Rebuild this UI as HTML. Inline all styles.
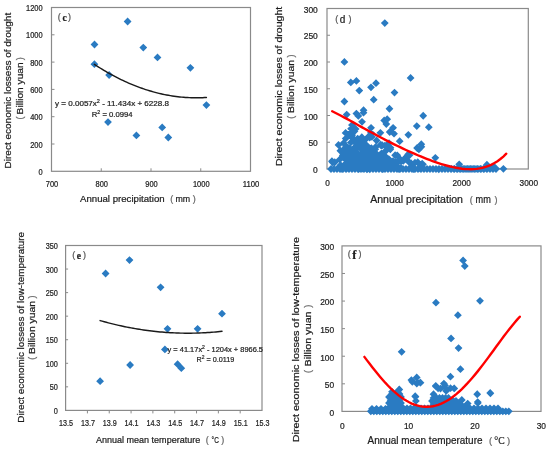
<!DOCTYPE html>
<html><head><meta charset="utf-8"><style>
html,body{margin:0;padding:0;background:#fff;width:550px;height:450px;overflow:hidden;}
svg{display:block;font-family:"Liberation Sans", sans-serif;filter:blur(0.3px);}
.t{filter:grayscale(1);}
</style></head><body>
<svg width="550" height="450" viewBox="0 0 550 450">
<rect width="550" height="450" fill="#fff"/>
<rect x="51.5" y="7.5" width="199.00" height="163.80" fill="none" stroke="#8a8a8a" stroke-width="1.2"/>
<line x1="51.50" y1="144.00" x2="54.50" y2="144.00" stroke="#8a8a8a" stroke-width="1"/>
<line x1="51.50" y1="116.70" x2="54.50" y2="116.70" stroke="#8a8a8a" stroke-width="1"/>
<line x1="51.50" y1="89.40" x2="54.50" y2="89.40" stroke="#8a8a8a" stroke-width="1"/>
<line x1="51.50" y1="62.10" x2="54.50" y2="62.10" stroke="#8a8a8a" stroke-width="1"/>
<line x1="51.50" y1="34.80" x2="54.50" y2="34.80" stroke="#8a8a8a" stroke-width="1"/>
<line x1="101.25" y1="171.30" x2="101.25" y2="168.30" stroke="#8a8a8a" stroke-width="1"/>
<line x1="151.00" y1="171.30" x2="151.00" y2="168.30" stroke="#8a8a8a" stroke-width="1"/>
<line x1="200.75" y1="171.30" x2="200.75" y2="168.30" stroke="#8a8a8a" stroke-width="1"/>
<rect x="327" y="8.5" width="201.30" height="160.50" fill="none" stroke="#8a8a8a" stroke-width="1.2"/>
<line x1="327.00" y1="142.25" x2="330.00" y2="142.25" stroke="#8a8a8a" stroke-width="1"/>
<line x1="327.00" y1="115.50" x2="330.00" y2="115.50" stroke="#8a8a8a" stroke-width="1"/>
<line x1="327.00" y1="88.75" x2="330.00" y2="88.75" stroke="#8a8a8a" stroke-width="1"/>
<line x1="327.00" y1="62.00" x2="330.00" y2="62.00" stroke="#8a8a8a" stroke-width="1"/>
<line x1="327.00" y1="35.25" x2="330.00" y2="35.25" stroke="#8a8a8a" stroke-width="1"/>
<line x1="394.10" y1="169.00" x2="394.10" y2="166.00" stroke="#8a8a8a" stroke-width="1"/>
<line x1="461.20" y1="169.00" x2="461.20" y2="166.00" stroke="#8a8a8a" stroke-width="1"/>
<rect x="65.6" y="245.5" width="196.40" height="164.90" fill="none" stroke="#8a8a8a" stroke-width="1.2"/>
<line x1="65.60" y1="386.84" x2="68.10" y2="386.84" stroke="#8a8a8a" stroke-width="1"/>
<line x1="65.60" y1="363.29" x2="68.10" y2="363.29" stroke="#8a8a8a" stroke-width="1"/>
<line x1="65.60" y1="339.73" x2="68.10" y2="339.73" stroke="#8a8a8a" stroke-width="1"/>
<line x1="65.60" y1="316.17" x2="68.10" y2="316.17" stroke="#8a8a8a" stroke-width="1"/>
<line x1="65.60" y1="292.61" x2="68.10" y2="292.61" stroke="#8a8a8a" stroke-width="1"/>
<line x1="65.60" y1="269.06" x2="68.10" y2="269.06" stroke="#8a8a8a" stroke-width="1"/>
<line x1="87.42" y1="410.40" x2="87.42" y2="413.40" stroke="#8a8a8a" stroke-width="1"/>
<line x1="109.24" y1="410.40" x2="109.24" y2="413.40" stroke="#8a8a8a" stroke-width="1"/>
<line x1="131.07" y1="410.40" x2="131.07" y2="413.40" stroke="#8a8a8a" stroke-width="1"/>
<line x1="152.89" y1="410.40" x2="152.89" y2="413.40" stroke="#8a8a8a" stroke-width="1"/>
<line x1="174.71" y1="410.40" x2="174.71" y2="413.40" stroke="#8a8a8a" stroke-width="1"/>
<line x1="196.53" y1="410.40" x2="196.53" y2="413.40" stroke="#8a8a8a" stroke-width="1"/>
<line x1="218.36" y1="410.40" x2="218.36" y2="413.40" stroke="#8a8a8a" stroke-width="1"/>
<line x1="240.18" y1="410.40" x2="240.18" y2="413.40" stroke="#8a8a8a" stroke-width="1"/>
<rect x="342" y="245.9" width="199.00" height="165.50" fill="none" stroke="#8a8a8a" stroke-width="1.2"/>
<line x1="342.00" y1="383.82" x2="345.00" y2="383.82" stroke="#8a8a8a" stroke-width="1"/>
<line x1="342.00" y1="356.23" x2="345.00" y2="356.23" stroke="#8a8a8a" stroke-width="1"/>
<line x1="342.00" y1="328.65" x2="345.00" y2="328.65" stroke="#8a8a8a" stroke-width="1"/>
<line x1="342.00" y1="301.07" x2="345.00" y2="301.07" stroke="#8a8a8a" stroke-width="1"/>
<line x1="342.00" y1="273.48" x2="345.00" y2="273.48" stroke="#8a8a8a" stroke-width="1"/>
<line x1="408.33" y1="411.40" x2="408.33" y2="408.40" stroke="#8a8a8a" stroke-width="1"/>
<line x1="474.67" y1="411.40" x2="474.67" y2="408.40" stroke="#8a8a8a" stroke-width="1"/>
<path d="M127.60,17.60L131.50,21.50L127.60,25.40L123.70,21.50ZM94.50,40.60L98.40,44.50L94.50,48.40L90.60,44.50ZM143.30,43.70L147.20,47.60L143.30,51.50L139.40,47.60ZM157.50,53.50L161.40,57.40L157.50,61.30L153.60,57.40ZM190.40,63.90L194.30,67.80L190.40,71.70L186.50,67.80ZM94.40,60.30L98.30,64.20L94.40,68.10L90.50,64.20ZM109.10,71.10L113.00,75.00L109.10,78.90L105.20,75.00ZM206.40,101.20L210.30,105.10L206.40,109.00L202.50,105.10ZM108.00,118.20L111.90,122.10L108.00,126.00L104.10,122.10ZM136.40,131.50L140.30,135.40L136.40,139.30L132.50,135.40ZM162.20,123.50L166.10,127.40L162.20,131.30L158.30,127.40ZM168.30,133.60L172.20,137.50L168.30,141.40L164.40,137.50ZM384.80,19.20L388.70,23.10L384.80,27.00L380.90,23.10ZM344.40,58.00L348.30,61.90L344.40,65.80L340.50,61.90ZM410.60,74.00L414.50,77.90L410.60,81.80L406.70,77.90ZM350.80,78.50L354.70,82.40L350.80,86.30L346.90,82.40ZM356.40,77.00L360.30,80.90L356.40,84.80L352.50,80.90ZM376.00,79.30L379.90,83.20L376.00,87.10L372.10,83.20ZM371.00,83.40L374.90,87.30L371.00,91.20L367.10,87.30ZM359.30,86.70L363.20,90.60L359.30,94.50L355.40,90.60ZM394.50,88.70L398.40,92.60L394.50,96.50L390.60,92.60ZM373.70,95.75L377.60,99.65L373.70,103.55L369.80,99.65ZM344.40,97.60L348.30,101.50L344.40,105.40L340.50,101.50ZM389.45,104.85L393.35,108.75L389.45,112.65L385.55,108.75ZM363.55,106.30L367.45,110.20L363.55,114.10L359.65,110.20ZM356.40,109.65L360.30,113.55L356.40,117.45L352.50,113.55ZM358.33,112.00L362.23,115.90L358.33,119.80L354.43,115.90ZM346.70,110.70L350.60,114.60L346.70,118.50L342.80,114.60ZM423.20,111.85L427.10,115.75L423.20,119.65L419.30,115.75ZM384.20,116.55L388.10,120.45L384.20,124.35L380.30,120.45ZM387.20,115.25L391.10,119.15L387.20,123.05L383.30,119.15ZM362.02,117.90L365.92,121.80L362.02,125.70L358.12,121.80ZM351.94,121.20L355.84,125.10L351.94,129.00L348.04,125.10ZM416.77,122.20L420.67,126.10L416.77,130.00L412.88,126.10ZM428.80,123.25L432.70,127.15L428.80,131.05L424.90,127.15ZM371.05,123.92L374.95,127.82L371.05,131.72L367.15,127.82ZM393.10,123.90L397.00,127.80L393.10,131.70L389.20,127.80ZM380.38,128.90L384.27,132.80L380.38,136.70L376.48,132.80ZM345.60,129.07L349.50,132.97L345.60,136.87L341.70,132.97ZM408.34,130.88L412.24,134.78L408.34,138.68L404.44,134.78ZM421.30,140.30L425.20,144.20L421.30,148.10L417.40,144.20ZM399.68,137.32L403.57,141.22L399.68,145.12L395.78,141.22ZM435.33,153.97L439.23,157.87L435.33,161.77L431.43,157.87ZM363.50,108.80L367.40,112.70L363.50,116.60L359.60,112.70ZM354.50,127.40L358.40,131.30L354.50,135.20L350.60,131.30ZM389.70,128.10L393.60,132.00L389.70,135.90L385.80,132.00ZM338.50,141.00L342.40,144.90L338.50,148.80L334.60,144.90ZM344.62,144.72L348.52,148.62L344.62,152.53L340.73,148.62ZM332.50,158.40L336.40,162.30L332.50,166.20L328.60,162.30ZM361.40,135.60L365.30,139.50L361.40,143.40L357.50,139.50ZM369.70,133.60L373.60,137.50L369.70,141.40L365.80,137.50ZM380.67,140.87L384.57,144.77L380.67,148.67L376.77,144.77ZM394.03,129.77L397.93,133.67L394.03,137.57L390.13,133.67ZM421.37,142.97L425.27,146.87L421.37,150.77L417.47,146.87ZM418.90,145.50L422.80,149.40L418.90,153.30L415.00,149.40ZM503.40,164.90L507.30,168.80L503.40,172.70L499.50,168.80ZM493.70,162.40L497.60,166.30L493.70,170.20L489.80,166.30ZM486.90,160.80L490.80,164.70L486.90,168.60L483.00,164.70ZM349.00,131.80L352.90,135.70L349.00,139.60L345.10,135.70ZM351.20,127.50L355.10,131.40L351.20,135.30L347.30,131.40ZM371.90,132.90L375.80,136.80L371.90,140.70L368.00,136.80ZM459.20,160.40L463.10,164.30L459.20,168.20L455.30,164.30ZM350.20,129.60L354.10,133.50L350.20,137.40L346.30,133.50ZM417.10,144.10L421.00,148.00L417.10,151.90L413.20,148.00ZM386.30,120.10L390.20,124.00L386.30,127.90L382.40,124.00ZM346.59,162.48L350.49,166.38L346.59,170.28L342.69,166.38ZM344.49,163.35L348.39,167.25L344.49,171.15L340.59,167.25ZM422.15,159.83L426.05,163.73L422.15,167.63L418.25,163.73ZM346.56,151.39L350.46,155.29L346.56,159.19L342.66,155.29ZM365.16,135.91L369.06,139.81L365.16,143.71L361.26,139.81ZM344.19,154.26L348.09,158.16L344.19,162.06L340.29,158.16ZM363.34,153.73L367.24,157.63L363.34,161.53L359.44,157.63ZM380.68,156.30L384.58,160.20L380.68,164.10L376.78,160.20ZM347.95,143.77L351.85,147.67L347.95,151.57L344.05,147.67ZM346.12,142.33L350.02,146.23L346.12,150.13L342.22,146.23ZM360.37,156.45L364.27,160.35L360.37,164.25L356.47,160.35ZM362.51,148.45L366.41,152.35L362.51,156.25L358.61,152.35ZM357.20,149.18L361.10,153.08L357.20,156.98L353.30,153.08ZM359.25,164.70L363.15,168.60L359.25,172.50L355.35,168.60ZM367.03,145.99L370.93,149.89L367.03,153.79L363.13,149.89ZM347.39,156.87L351.29,160.77L347.39,164.67L343.49,160.77ZM364.01,150.15L367.91,154.05L364.01,157.95L360.11,154.05ZM347.20,160.23L351.10,164.13L347.20,168.03L343.30,164.13ZM378.98,159.16L382.88,163.06L378.98,166.96L375.08,163.06ZM390.51,143.82L394.41,147.72L390.51,151.62L386.61,147.72ZM388.64,159.60L392.54,163.50L388.64,167.40L384.74,163.50ZM382.61,164.49L386.51,168.39L382.61,172.29L378.71,168.39ZM376.34,154.18L380.24,158.08L376.34,161.98L372.44,158.08ZM371.35,144.19L375.25,148.09L371.35,151.99L367.45,148.09ZM374.08,154.26L377.98,158.16L374.08,162.06L370.18,158.16ZM381.71,160.16L385.61,164.06L381.71,167.96L377.81,164.06ZM371.67,160.70L375.57,164.60L371.67,168.50L367.77,164.60ZM376.46,154.55L380.36,158.45L376.46,162.35L372.56,158.45ZM347.24,147.12L351.14,151.02L347.24,154.92L343.34,151.02ZM367.04,152.18L370.94,156.08L367.04,159.98L363.14,156.08ZM381.36,164.19L385.26,168.09L381.36,171.99L377.46,168.09ZM371.56,150.75L375.46,154.65L371.56,158.55L367.66,154.65ZM390.77,159.76L394.67,163.66L390.77,167.56L386.87,163.66ZM355.63,125.03L359.53,128.93L355.63,132.83L351.73,128.93ZM350.77,147.24L354.67,151.14L350.77,155.04L346.87,151.14ZM370.47,150.65L374.37,154.55L370.47,158.45L366.57,154.55ZM354.34,160.78L358.24,164.68L354.34,168.58L350.44,164.68ZM377.10,152.01L381.00,155.91L377.10,159.81L373.20,155.91ZM388.79,155.20L392.69,159.10L388.79,163.00L384.89,159.10ZM358.22,153.52L362.12,157.42L358.22,161.32L354.32,157.42ZM331.95,157.37L335.85,161.27L331.95,165.17L328.05,161.27ZM364.85,147.56L368.75,151.46L364.85,155.36L360.95,151.46ZM355.37,161.66L359.27,165.56L355.37,169.46L351.47,165.56ZM360.79,151.65L364.69,155.55L360.79,159.45L356.89,155.55ZM369.15,147.13L373.05,151.03L369.15,154.93L365.25,151.03ZM375.08,156.91L378.98,160.81L375.08,164.71L371.18,160.81ZM367.02,144.02L370.92,147.92L367.02,151.82L363.12,147.92ZM358.82,163.59L362.72,167.49L358.82,171.39L354.92,167.49ZM381.29,149.70L385.19,153.60L381.29,157.50L377.39,153.60ZM384.30,161.49L388.20,165.39L384.30,169.29L380.40,165.39ZM366.97,147.11L370.87,151.01L366.97,154.91L363.07,151.01ZM367.25,158.26L371.15,162.16L367.25,166.06L363.35,162.16ZM413.58,163.76L417.48,167.66L413.58,171.56L409.68,167.66ZM358.16,142.85L362.06,146.75L358.16,150.65L354.26,146.75ZM362.75,164.77L366.65,168.67L362.75,172.57L358.85,168.67ZM367.83,164.75L371.73,168.65L367.83,172.55L363.93,168.65ZM409.52,151.29L413.42,155.19L409.52,159.09L405.62,155.19ZM401.10,164.32L405.00,168.22L401.10,172.12L397.20,168.22ZM383.59,149.04L387.49,152.94L383.59,156.84L379.69,152.94ZM361.57,162.41L365.47,166.31L361.57,170.21L357.67,166.31ZM350.36,154.39L354.26,158.29L350.36,162.19L346.46,158.29ZM346.20,159.05L350.10,162.95L346.20,166.85L342.30,162.95ZM365.61,143.89L369.51,147.79L365.61,151.69L361.71,147.79ZM359.65,135.44L363.55,139.34L359.65,143.24L355.75,139.34ZM351.64,131.70L355.54,135.60L351.64,139.50L347.74,135.60ZM355.30,142.96L359.20,146.86L355.30,150.76L351.40,146.86ZM371.53,129.42L375.43,133.32L371.53,137.22L367.63,133.32ZM352.97,123.66L356.87,127.56L352.97,131.46L349.07,127.56ZM389.18,161.32L393.08,165.22L389.18,169.12L385.28,165.22ZM352.08,146.70L355.98,150.60L352.08,154.50L348.18,150.60ZM344.85,148.30L348.75,152.20L344.85,156.10L340.95,152.20ZM370.96,128.90L374.86,132.80L370.96,136.70L367.06,132.80ZM369.87,153.03L373.77,156.93L369.87,160.83L365.97,156.93ZM362.10,158.95L366.00,162.85L362.10,166.75L358.20,162.85ZM372.60,159.98L376.50,163.88L372.60,167.78L368.70,163.88ZM364.84,163.66L368.74,167.56L364.84,171.46L360.94,167.56ZM381.69,149.64L385.59,153.54L381.69,157.44L377.79,153.54ZM379.94,160.54L383.84,164.44L379.94,168.34L376.04,164.44ZM354.77,138.43L358.67,142.33L354.77,146.23L350.87,142.33ZM407.24,153.72L411.14,157.62L407.24,161.52L403.34,157.62ZM364.31,155.54L368.21,159.44L364.31,163.34L360.41,159.44ZM343.62,161.65L347.52,165.55L343.62,169.45L339.72,165.55ZM357.86,149.74L361.76,153.64L357.86,157.54L353.96,153.64ZM397.71,157.86L401.61,161.76L397.71,165.66L393.81,161.76ZM374.53,155.29L378.43,159.19L374.53,163.09L370.63,159.19ZM362.67,142.61L366.57,146.51L362.67,150.41L358.77,146.51ZM398.96,165.22L402.86,169.12L398.96,173.02L395.06,169.12ZM368.40,150.01L372.30,153.91L368.40,157.81L364.50,153.91ZM384.83,141.80L388.73,145.70L384.83,149.60L380.93,145.70ZM395.11,151.24L399.01,155.14L395.11,159.04L391.21,155.14ZM381.23,141.75L385.13,145.65L381.23,149.55L377.33,145.65ZM367.23,148.52L371.13,152.42L367.23,156.32L363.33,152.42ZM370.61,163.03L374.51,166.93L370.61,170.83L366.71,166.93ZM343.80,146.56L347.70,150.46L343.80,154.36L339.90,150.46ZM389.70,162.00L393.60,165.90L389.70,169.80L385.80,165.90ZM346.76,153.94L350.66,157.84L346.76,161.74L342.86,157.84ZM438.79,165.42L442.69,169.32L438.79,173.22L434.89,169.32ZM367.00,165.52L370.90,169.42L367.00,173.32L363.10,169.42ZM378.99,155.21L382.89,159.11L378.99,163.01L375.09,159.11ZM364.14,160.14L368.04,164.04L364.14,167.94L360.24,164.04ZM348.00,146.06L351.90,149.96L348.00,153.86L344.10,149.96ZM350.27,159.67L354.17,163.57L350.27,167.47L346.37,163.57ZM370.45,154.00L374.35,157.90L370.45,161.80L366.55,157.90ZM355.88,152.49L359.78,156.39L355.88,160.29L351.98,156.39ZM365.04,154.11L368.94,158.01L365.04,161.91L361.14,158.01ZM359.88,162.58L363.78,166.48L359.88,170.38L355.98,166.48ZM370.55,146.00L374.45,149.90L370.55,153.80L366.65,149.90ZM354.51,161.65L358.41,165.55L354.51,169.45L350.61,165.55ZM339.78,155.56L343.68,159.46L339.78,163.36L335.88,159.46ZM366.92,144.92L370.82,148.82L366.92,152.72L363.02,148.82ZM353.00,155.56L356.90,159.46L353.00,163.36L349.10,159.46ZM414.99,158.87L418.89,162.77L414.99,166.67L411.09,162.77ZM379.81,158.36L383.71,162.26L379.81,166.16L375.91,162.26ZM390.43,157.98L394.33,161.88L390.43,165.78L386.53,161.88ZM382.94,165.14L386.84,169.04L382.94,172.94L379.04,169.04ZM350.61,152.16L354.51,156.06L350.61,159.96L346.71,156.06ZM370.46,159.12L374.36,163.02L370.46,166.92L366.56,163.02ZM371.16,155.92L375.06,159.82L371.16,163.72L367.26,159.82ZM388.43,157.53L392.33,161.43L388.43,165.33L384.53,161.43ZM369.98,147.18L373.88,151.08L369.98,154.98L366.08,151.08ZM389.58,162.92L393.48,166.82L389.58,170.72L385.68,166.82ZM359.43,139.25L363.33,143.15L359.43,147.05L355.53,143.15ZM362.67,148.33L366.57,152.23L362.67,156.13L358.77,152.23ZM398.34,163.22L402.24,167.12L398.34,171.02L394.44,167.12ZM351.47,163.18L355.37,167.08L351.47,170.98L347.57,167.08ZM388.53,161.97L392.43,165.87L388.53,169.77L384.63,165.87ZM345.67,134.63L349.57,138.53L345.67,142.43L341.77,138.53ZM417.75,158.37L421.65,162.27L417.75,166.17L413.85,162.27ZM374.97,157.02L378.87,160.92L374.97,164.82L371.07,160.92ZM408.06,150.49L411.96,154.39L408.06,158.29L404.16,154.39ZM343.58,139.22L347.48,143.12L343.58,147.02L339.68,143.12ZM411.01,159.29L414.91,163.19L411.01,167.09L407.11,163.19ZM362.42,154.59L366.32,158.49L362.42,162.39L358.52,158.49ZM361.71,145.70L365.61,149.60L361.71,153.50L357.81,149.60ZM347.44,152.01L351.34,155.91L347.44,159.81L343.54,155.91ZM345.94,148.04L349.84,151.94L345.94,155.84L342.04,151.94ZM354.64,158.39L358.54,162.29L354.64,166.19L350.74,162.29ZM381.25,153.08L385.15,156.98L381.25,160.88L377.35,156.98ZM369.81,165.38L373.71,169.28L369.81,173.18L365.91,169.28ZM377.83,152.58L381.73,156.48L377.83,160.38L373.93,156.48ZM362.85,144.11L366.75,148.01L362.85,151.91L358.95,148.01ZM350.94,162.58L354.84,166.48L350.94,170.38L347.04,166.48ZM375.01,145.67L378.91,149.57L375.01,153.47L371.11,149.57ZM386.66,146.14L390.56,150.04L386.66,153.94L382.76,150.04ZM346.37,164.84L350.27,168.74L346.37,172.64L342.47,168.74ZM379.84,152.02L383.74,155.92L379.84,159.82L375.94,155.92ZM334.75,158.37L338.65,162.27L334.75,166.17L330.85,162.27ZM349.31,150.54L353.21,154.44L349.31,158.34L345.41,154.44ZM397.24,151.46L401.14,155.36L397.24,159.26L393.34,155.36ZM376.01,161.64L379.91,165.54L376.01,169.44L372.11,165.54ZM352.64,161.57L356.54,165.47L352.64,169.37L348.74,165.47ZM359.83,158.34L363.73,162.24L359.83,166.14L355.93,162.24ZM380.56,155.13L384.46,159.03L380.56,162.93L376.66,159.03ZM361.83,141.51L365.73,145.41L361.83,149.31L357.93,145.41ZM373.66,161.34L377.56,165.24L373.66,169.14L369.76,165.24ZM364.80,163.92L368.70,167.82L364.80,171.72L360.90,167.82ZM352.35,147.67L356.25,151.57L352.35,155.47L348.45,151.57ZM355.93,143.14L359.83,147.04L355.93,150.94L352.03,147.04ZM394.71,161.34L398.61,165.24L394.71,169.14L390.81,165.24ZM358.60,165.08L362.50,168.98L358.60,172.88L354.70,168.98ZM363.24,150.49L367.14,154.39L363.24,158.29L359.34,154.39ZM383.12,157.89L387.02,161.79L383.12,165.69L379.22,161.79ZM349.70,159.14L353.60,163.04L349.70,166.94L345.80,163.04ZM342.84,148.38L346.74,152.28L342.84,156.18L338.94,152.28ZM405.92,153.27L409.82,157.17L405.92,161.07L402.02,157.17ZM353.31,149.31L357.21,153.21L353.31,157.11L349.41,153.21ZM384.75,158.78L388.65,162.68L384.75,166.58L380.85,162.68ZM409.77,164.22L413.67,168.12L409.77,172.02L405.87,168.12ZM386.59,156.94L390.49,160.84L386.59,164.74L382.69,160.84ZM373.16,150.61L377.06,154.51L373.16,158.41L369.26,154.51ZM375.40,148.89L379.30,152.79L375.40,156.69L371.50,152.79ZM362.18,141.70L366.08,145.60L362.18,149.50L358.28,145.60ZM395.77,163.02L399.67,166.92L395.77,170.82L391.87,166.92ZM378.55,162.45L382.45,166.35L378.55,170.25L374.65,166.35ZM380.72,151.45L384.62,155.35L380.72,159.25L376.82,155.35ZM361.48,157.11L365.38,161.01L361.48,164.91L357.58,161.01ZM352.08,157.70L355.98,161.60L352.08,165.50L348.18,161.60ZM364.21,161.70L368.11,165.60L364.21,169.50L360.31,165.60ZM376.15,162.76L380.05,166.66L376.15,170.56L372.25,166.66ZM390.34,145.38L394.24,149.28L390.34,153.18L386.44,149.28ZM370.17,164.04L374.07,167.94L370.17,171.84L366.27,167.94ZM348.33,164.26L352.23,168.16L348.33,172.06L344.43,168.16ZM368.80,132.43L372.70,136.33L368.80,140.23L364.90,136.33ZM357.67,134.67L361.57,138.57L357.67,142.47L353.77,138.57ZM388.21,161.67L392.11,165.57L388.21,169.47L384.31,165.57ZM338.94,164.06L342.84,167.96L338.94,171.86L335.04,167.96ZM376.22,158.55L380.12,162.45L376.22,166.35L372.32,162.45ZM377.50,153.33L381.40,157.23L377.50,161.13L373.60,157.23ZM349.39,153.26L353.29,157.16L349.39,161.06L345.49,157.16ZM360.99,157.69L364.89,161.59L360.99,165.49L357.09,161.59ZM366.35,157.91L370.25,161.81L366.35,165.71L362.45,161.81ZM361.82,133.25L365.72,137.15L361.82,141.05L357.92,137.15ZM376.58,136.59L380.48,140.49L376.58,144.39L372.68,140.49ZM362.48,153.46L366.38,157.36L362.48,161.26L358.58,157.36ZM413.77,165.24L417.67,169.14L413.77,173.04L409.87,169.14ZM381.05,155.99L384.95,159.89L381.05,163.79L377.15,159.89ZM340.58,161.20L344.48,165.10L340.58,169.00L336.68,165.10ZM360.81,164.89L364.71,168.79L360.81,172.69L356.91,168.79ZM352.21,131.17L356.11,135.07L352.21,138.97L348.31,135.07ZM384.01,163.51L387.91,167.41L384.01,171.31L380.11,167.41ZM363.71,136.70L367.61,140.60L363.71,144.50L359.81,140.60ZM350.82,146.95L354.72,150.85L350.82,154.75L346.92,150.85ZM345.41,150.16L349.31,154.06L345.41,157.96L341.51,154.06ZM385.00,155.02L388.90,158.92L385.00,162.82L381.10,158.92ZM368.08,148.81L371.98,152.71L368.08,156.61L364.18,152.71ZM369.34,156.67L373.24,160.57L369.34,164.47L365.44,160.57ZM377.04,158.82L380.94,162.72L377.04,166.62L373.14,162.72ZM351.66,132.92L355.56,136.82L351.66,140.72L347.76,136.82ZM395.34,158.02L399.24,161.92L395.34,165.82L391.44,161.92ZM357.55,143.71L361.45,147.61L357.55,151.51L353.65,147.61ZM373.05,159.23L376.95,163.13L373.05,167.03L369.15,163.13ZM342.74,151.56L346.64,155.46L342.74,159.36L338.84,155.46ZM362.41,145.34L366.31,149.24L362.41,153.14L358.51,149.24ZM346.82,147.83L350.72,151.73L346.82,155.63L342.92,151.73ZM366.26,147.05L370.16,150.95L366.26,154.85L362.36,150.95ZM350.72,151.24L354.62,155.14L350.72,159.04L346.82,155.14ZM358.85,165.07L362.75,168.97L358.85,172.87L354.95,168.97ZM340.37,146.87L344.27,150.77L340.37,154.67L336.47,150.77ZM341.32,165.04L345.22,168.94L341.32,172.84L337.42,168.94ZM409.31,158.51L413.21,162.41L409.31,166.31L405.41,162.41ZM366.98,161.04L370.88,164.94L366.98,168.84L363.08,164.94ZM370.72,155.88L374.62,159.78L370.72,163.68L366.82,159.78ZM349.93,144.57L353.83,148.47L349.93,152.37L346.03,148.47ZM366.61,141.47L370.51,145.37L366.61,149.27L362.71,145.37ZM353.17,136.62L357.07,140.52L353.17,144.42L349.27,140.52ZM388.99,143.44L392.89,147.34L388.99,151.24L385.09,147.34ZM366.98,153.29L370.88,157.19L366.98,161.09L363.08,157.19ZM360.18,161.17L364.08,165.07L360.18,168.97L356.28,165.07ZM366.55,150.34L370.45,154.24L366.55,158.14L362.65,154.24ZM351.08,124.75L354.98,128.65L351.08,132.55L347.18,128.65ZM419.97,164.51L423.87,168.41L419.97,172.31L416.07,168.41ZM364.00,160.56L367.90,164.46L364.00,168.36L360.10,164.46ZM389.00,139.18L392.90,143.08L389.00,146.98L385.10,143.08ZM379.72,153.53L383.62,157.43L379.72,161.33L375.82,157.43ZM375.16,145.24L379.06,149.14L375.16,153.04L371.26,149.14ZM401.03,157.67L404.93,161.57L401.03,165.47L397.13,161.57ZM377.34,153.30L381.24,157.20L377.34,161.10L373.44,157.20ZM348.37,131.58L352.27,135.48L348.37,139.38L344.47,135.48ZM367.58,151.54L371.48,155.44L367.58,159.34L363.68,155.44ZM349.22,153.21L353.12,157.11L349.22,161.01L345.32,157.11ZM393.00,157.26L396.90,161.16L393.00,165.06L389.10,161.16ZM350.89,138.53L354.79,142.43L350.89,146.33L346.99,142.43ZM351.79,162.87L355.69,166.77L351.79,170.67L347.89,166.77ZM361.88,161.18L365.78,165.08L361.88,168.98L357.98,165.08ZM377.37,151.01L381.27,154.91L377.37,158.81L373.47,154.91ZM361.51,161.93L365.41,165.83L361.51,169.73L357.61,165.83ZM361.10,136.42L365.00,140.32L361.10,144.22L357.20,140.32ZM369.59,147.55L373.49,151.45L369.59,155.35L365.69,151.45ZM378.29,154.42L382.19,158.32L378.29,162.22L374.39,158.32ZM384.67,151.74L388.57,155.64L384.67,159.54L380.77,155.64ZM376.46,150.89L380.36,154.79L376.46,158.69L372.56,154.79ZM399.85,155.05L403.75,158.95L399.85,162.85L395.95,158.95ZM371.89,157.19L375.79,161.09L371.89,164.99L367.99,161.09ZM383.18,164.11L387.08,168.01L383.18,171.91L379.28,168.01ZM373.41,156.36L377.31,160.26L373.41,164.16L369.51,160.26ZM364.39,154.99L368.29,158.89L364.39,162.79L360.49,158.89ZM419.22,163.60L423.12,167.50L419.22,171.40L415.32,167.50ZM382.21,141.34L386.11,145.24L382.21,149.14L378.31,145.24ZM422.95,160.43L426.85,164.33L422.95,168.23L419.05,164.33ZM383.18,160.18L387.08,164.08L383.18,167.98L379.28,164.08ZM354.67,163.67L358.57,167.57L354.67,171.47L350.77,167.57ZM383.27,163.53L387.17,167.43L383.27,171.33L379.37,167.43ZM363.88,164.03L367.78,167.93L363.88,171.83L359.98,167.93ZM360.34,140.95L364.24,144.85L360.34,148.75L356.44,144.85ZM357.40,163.55L361.30,167.45L357.40,171.35L353.50,167.45ZM348.01,150.33L351.91,154.23L348.01,158.13L344.11,154.23ZM355.97,152.65L359.87,156.55L355.97,160.45L352.07,156.55ZM384.38,163.30L388.28,167.20L384.38,171.10L380.48,167.20ZM356.44,159.44L360.34,163.34L356.44,167.24L352.54,163.34ZM398.31,163.56L402.21,167.46L398.31,171.36L394.41,167.46ZM375.42,143.35L379.32,147.25L375.42,151.15L371.52,147.25ZM403.30,157.01L407.20,160.91L403.30,164.81L399.40,160.91ZM349.17,146.93L353.07,150.83L349.17,154.73L345.27,150.83ZM352.18,155.67L356.08,159.57L352.18,163.47L348.28,159.57ZM342.80,165.17L346.70,169.07L342.80,172.97L338.90,169.07ZM377.95,154.36L381.85,158.26L377.95,162.16L374.05,158.26ZM331.00,165.10L334.90,169.00L331.00,172.90L327.10,169.00ZM334.00,165.10L337.90,169.00L334.00,172.90L330.10,169.00ZM337.00,165.10L340.90,169.00L337.00,172.90L333.10,169.00ZM340.00,165.10L343.90,169.00L340.00,172.90L336.10,169.00ZM343.00,165.10L346.90,169.00L343.00,172.90L339.10,169.00ZM346.00,165.10L349.90,169.00L346.00,172.90L342.10,169.00ZM349.00,165.10L352.90,169.00L349.00,172.90L345.10,169.00ZM352.00,165.10L355.90,169.00L352.00,172.90L348.10,169.00ZM355.00,165.10L358.90,169.00L355.00,172.90L351.10,169.00ZM358.00,165.10L361.90,169.00L358.00,172.90L354.10,169.00ZM361.00,165.10L364.90,169.00L361.00,172.90L357.10,169.00ZM364.00,165.10L367.90,169.00L364.00,172.90L360.10,169.00ZM367.00,165.10L370.90,169.00L367.00,172.90L363.10,169.00ZM370.00,165.10L373.90,169.00L370.00,172.90L366.10,169.00ZM373.00,165.10L376.90,169.00L373.00,172.90L369.10,169.00ZM376.00,165.10L379.90,169.00L376.00,172.90L372.10,169.00ZM379.00,165.10L382.90,169.00L379.00,172.90L375.10,169.00ZM382.00,165.10L385.90,169.00L382.00,172.90L378.10,169.00ZM385.00,165.10L388.90,169.00L385.00,172.90L381.10,169.00ZM388.00,165.10L391.90,169.00L388.00,172.90L384.10,169.00ZM391.00,165.10L394.90,169.00L391.00,172.90L387.10,169.00ZM394.00,165.10L397.90,169.00L394.00,172.90L390.10,169.00ZM397.00,165.10L400.90,169.00L397.00,172.90L393.10,169.00ZM400.00,165.10L403.90,169.00L400.00,172.90L396.10,169.00ZM403.00,165.10L406.90,169.00L403.00,172.90L399.10,169.00ZM406.00,165.10L409.90,169.00L406.00,172.90L402.10,169.00ZM409.00,165.10L412.90,169.00L409.00,172.90L405.10,169.00ZM412.00,165.10L415.90,169.00L412.00,172.90L408.10,169.00ZM415.00,165.10L418.90,169.00L415.00,172.90L411.10,169.00ZM418.00,165.10L421.90,169.00L418.00,172.90L414.10,169.00ZM421.00,165.10L424.90,169.00L421.00,172.90L417.10,169.00ZM424.00,165.10L427.90,169.00L424.00,172.90L420.10,169.00ZM427.00,165.10L430.90,169.00L427.00,172.90L423.10,169.00ZM430.00,165.10L433.90,169.00L430.00,172.90L426.10,169.00ZM433.00,165.10L436.90,169.00L433.00,172.90L429.10,169.00ZM436.00,165.10L439.90,169.00L436.00,172.90L432.10,169.00ZM439.00,165.10L442.90,169.00L439.00,172.90L435.10,169.00ZM442.00,165.10L445.90,169.00L442.00,172.90L438.10,169.00ZM445.00,165.10L448.90,169.00L445.00,172.90L441.10,169.00ZM448.00,165.10L451.90,169.00L448.00,172.90L444.10,169.00ZM451.00,165.10L454.90,169.00L451.00,172.90L447.10,169.00ZM454.00,165.10L457.90,169.00L454.00,172.90L450.10,169.00ZM457.00,165.10L460.90,169.00L457.00,172.90L453.10,169.00ZM460.00,165.10L463.90,169.00L460.00,172.90L456.10,169.00ZM463.00,165.10L466.90,169.00L463.00,172.90L459.10,169.00ZM466.00,165.10L469.90,169.00L466.00,172.90L462.10,169.00ZM469.00,165.10L472.90,169.00L469.00,172.90L465.10,169.00ZM472.00,165.10L475.90,169.00L472.00,172.90L468.10,169.00ZM475.00,165.10L478.90,169.00L475.00,172.90L471.10,169.00ZM478.00,165.10L481.90,169.00L478.00,172.90L474.10,169.00ZM481.00,165.10L484.90,169.00L481.00,172.90L477.10,169.00ZM484.00,165.10L487.90,169.00L484.00,172.90L480.10,169.00ZM487.00,165.10L490.90,169.00L487.00,172.90L483.10,169.00ZM490.00,165.10L493.90,169.00L490.00,172.90L486.10,169.00ZM493.00,165.10L496.90,169.00L493.00,172.90L489.10,169.00ZM496.00,165.10L499.90,169.00L496.00,172.90L492.10,169.00ZM445.00,164.90L448.90,168.80L445.00,172.70L441.10,168.80ZM448.20,164.90L452.10,168.80L448.20,172.70L444.30,168.80ZM451.40,164.90L455.30,168.80L451.40,172.70L447.50,168.80ZM454.60,164.90L458.50,168.80L454.60,172.70L450.70,168.80ZM457.80,164.90L461.70,168.80L457.80,172.70L453.90,168.80ZM461.00,164.90L464.90,168.80L461.00,172.70L457.10,168.80ZM464.20,164.90L468.10,168.80L464.20,172.70L460.30,168.80ZM467.40,164.90L471.30,168.80L467.40,172.70L463.50,168.80ZM470.60,164.90L474.50,168.80L470.60,172.70L466.70,168.80ZM473.80,164.90L477.70,168.80L473.80,172.70L469.90,168.80ZM477.00,164.90L480.90,168.80L477.00,172.70L473.10,168.80ZM480.20,164.90L484.10,168.80L480.20,172.70L476.30,168.80ZM483.40,164.90L487.30,168.80L483.40,172.70L479.50,168.80ZM486.60,164.90L490.50,168.80L486.60,172.70L482.70,168.80ZM489.80,164.90L493.70,168.80L489.80,172.70L485.90,168.80ZM493.00,164.90L496.90,168.80L493.00,172.70L489.10,168.80ZM496.20,164.90L500.10,168.80L496.20,172.70L492.30,168.80ZM129.50,256.20L133.40,260.10L129.50,264.00L125.60,260.10ZM105.60,269.60L109.50,273.50L105.60,277.40L101.70,273.50ZM160.60,283.40L164.50,287.30L160.60,291.20L156.70,287.30ZM167.50,324.90L171.40,328.80L167.50,332.70L163.60,328.80ZM197.60,324.90L201.50,328.80L197.60,332.70L193.70,328.80ZM222.00,309.80L225.90,313.70L222.00,317.60L218.10,313.70ZM164.90,345.50L168.80,349.40L164.90,353.30L161.00,349.40ZM177.60,360.30L181.50,364.20L177.60,368.10L173.70,364.20ZM181.30,364.30L185.20,368.20L181.30,372.10L177.40,368.20ZM130.10,361.10L134.00,365.00L130.10,368.90L126.20,365.00ZM100.10,377.30L104.00,381.20L100.10,385.10L96.20,381.20ZM463.10,256.50L467.00,260.40L463.10,264.30L459.20,260.40ZM464.80,262.20L468.70,266.10L464.80,270.00L460.90,266.10ZM435.95,298.75L439.85,302.65L435.95,306.55L432.05,302.65ZM480.00,296.95L483.90,300.85L480.00,304.75L476.10,300.85ZM457.90,311.30L461.80,315.20L457.90,319.10L454.00,315.20ZM451.05,334.50L454.95,338.40L451.05,342.30L447.15,338.40ZM458.55,344.20L462.45,348.10L458.55,352.00L454.65,348.10ZM401.65,347.90L405.55,351.80L401.65,355.70L397.75,351.80ZM460.45,365.25L464.35,369.15L460.45,373.05L456.55,369.15ZM450.45,372.75L454.35,376.65L450.45,380.55L446.55,376.65ZM411.40,376.17L415.30,380.07L411.40,383.97L407.50,380.07ZM416.73,373.57L420.63,377.47L416.73,381.37L412.83,377.47ZM420.23,378.70L424.13,382.60L420.23,386.50L416.33,382.60ZM435.77,381.93L439.67,385.83L435.77,389.73L431.88,385.83ZM438.10,384.40L442.00,388.30L438.10,392.20L434.20,388.30ZM443.90,379.68L447.80,383.58L443.90,387.48L440.00,383.58ZM445.10,383.80L449.00,387.70L445.10,391.60L441.20,387.70ZM454.27,384.52L458.17,388.42L454.27,392.32L450.38,388.42ZM477.23,390.37L481.13,394.27L477.23,398.17L473.33,394.27ZM490.45,389.45L494.35,393.35L490.45,397.25L486.55,393.35ZM477.70,398.20L481.60,402.10L477.70,406.00L473.80,402.10ZM433.53,390.30L437.43,394.20L433.53,398.10L429.63,394.20ZM398.77,386.10L402.67,390.00L398.77,393.90L394.87,390.00ZM391.97,389.77L395.87,393.67L391.97,397.57L388.07,393.67ZM415.20,392.27L419.10,396.17L415.20,400.07L411.30,396.17ZM390.50,394.30L394.40,398.20L390.50,402.10L386.60,398.20ZM396.20,393.95L400.10,397.85L396.20,401.75L392.30,397.85ZM417.30,378.50L421.20,382.40L417.30,386.30L413.40,382.40ZM446.20,387.00L450.10,390.90L446.20,394.80L442.30,390.90ZM399.30,397.70L403.20,401.60L399.30,405.50L395.40,401.60ZM370.80,407.40L374.70,411.30L370.80,415.20L366.90,411.30ZM373.80,407.40L377.70,411.30L373.80,415.20L369.90,411.30ZM376.80,407.40L380.70,411.30L376.80,415.20L372.90,411.30ZM379.80,407.40L383.70,411.30L379.80,415.20L375.90,411.30ZM382.80,407.40L386.70,411.30L382.80,415.20L378.90,411.30ZM385.80,407.40L389.70,411.30L385.80,415.20L381.90,411.30ZM388.80,407.40L392.70,411.30L388.80,415.20L384.90,411.30ZM391.80,407.40L395.70,411.30L391.80,415.20L387.90,411.30ZM394.80,407.40L398.70,411.30L394.80,415.20L390.90,411.30ZM397.80,407.40L401.70,411.30L397.80,415.20L393.90,411.30ZM400.80,407.40L404.70,411.30L400.80,415.20L396.90,411.30ZM403.80,407.40L407.70,411.30L403.80,415.20L399.90,411.30ZM406.80,407.40L410.70,411.30L406.80,415.20L402.90,411.30ZM409.80,407.40L413.70,411.30L409.80,415.20L405.90,411.30ZM412.80,407.40L416.70,411.30L412.80,415.20L408.90,411.30ZM415.80,407.40L419.70,411.30L415.80,415.20L411.90,411.30ZM418.80,407.40L422.70,411.30L418.80,415.20L414.90,411.30ZM421.80,407.40L425.70,411.30L421.80,415.20L417.90,411.30ZM424.80,407.40L428.70,411.30L424.80,415.20L420.90,411.30ZM427.80,407.40L431.70,411.30L427.80,415.20L423.90,411.30ZM430.80,407.40L434.70,411.30L430.80,415.20L426.90,411.30ZM433.80,407.40L437.70,411.30L433.80,415.20L429.90,411.30ZM436.80,407.40L440.70,411.30L436.80,415.20L432.90,411.30ZM439.80,407.40L443.70,411.30L439.80,415.20L435.90,411.30ZM442.80,407.40L446.70,411.30L442.80,415.20L438.90,411.30ZM445.80,407.40L449.70,411.30L445.80,415.20L441.90,411.30ZM448.80,407.40L452.70,411.30L448.80,415.20L444.90,411.30ZM451.80,407.40L455.70,411.30L451.80,415.20L447.90,411.30ZM454.80,407.40L458.70,411.30L454.80,415.20L450.90,411.30ZM457.80,407.40L461.70,411.30L457.80,415.20L453.90,411.30ZM460.80,407.40L464.70,411.30L460.80,415.20L456.90,411.30ZM463.80,407.40L467.70,411.30L463.80,415.20L459.90,411.30ZM466.80,407.40L470.70,411.30L466.80,415.20L462.90,411.30ZM469.80,407.40L473.70,411.30L469.80,415.20L465.90,411.30ZM472.80,407.40L476.70,411.30L472.80,415.20L468.90,411.30ZM475.80,407.40L479.70,411.30L475.80,415.20L471.90,411.30ZM478.80,407.40L482.70,411.30L478.80,415.20L474.90,411.30ZM481.80,407.40L485.70,411.30L481.80,415.20L477.90,411.30ZM484.80,407.40L488.70,411.30L484.80,415.20L480.90,411.30ZM487.80,407.40L491.70,411.30L487.80,415.20L483.90,411.30ZM490.80,407.40L494.70,411.30L490.80,415.20L486.90,411.30ZM493.80,407.40L497.70,411.30L493.80,415.20L489.90,411.30ZM496.80,407.40L500.70,411.30L496.80,415.20L492.90,411.30ZM499.80,407.40L503.70,411.30L499.80,415.20L495.90,411.30ZM502.80,407.40L506.70,411.30L502.80,415.20L498.90,411.30ZM505.80,407.40L509.70,411.30L505.80,415.20L501.90,411.30ZM508.80,407.40L512.70,411.30L508.80,415.20L504.90,411.30ZM372.00,404.90L375.90,408.80L372.00,412.70L368.10,408.80ZM376.50,404.90L380.40,408.80L376.50,412.70L372.60,408.80ZM381.00,404.90L384.90,408.80L381.00,412.70L377.10,408.80ZM385.50,404.90L389.40,408.80L385.50,412.70L381.60,408.80ZM400.00,404.40L403.90,408.30L400.00,412.20L396.10,408.30ZM403.50,404.40L407.40,408.30L403.50,412.20L399.60,408.30ZM407.00,404.40L410.90,408.30L407.00,412.20L403.10,408.30ZM410.50,404.40L414.40,408.30L410.50,412.20L406.60,408.30ZM414.00,404.40L417.90,408.30L414.00,412.20L410.10,408.30ZM417.50,404.40L421.40,408.30L417.50,412.20L413.60,408.30ZM421.00,404.40L424.90,408.30L421.00,412.20L417.10,408.30ZM424.50,404.40L428.40,408.30L424.50,412.20L420.60,408.30ZM428.00,404.40L431.90,408.30L428.00,412.20L424.10,408.30ZM470.00,404.40L473.90,408.30L470.00,412.20L466.10,408.30ZM474.00,404.40L477.90,408.30L474.00,412.20L470.10,408.30ZM478.00,404.40L481.90,408.30L478.00,412.20L474.10,408.30ZM482.00,404.40L485.90,408.30L482.00,412.20L478.10,408.30ZM486.00,404.40L489.90,408.30L486.00,412.20L482.10,408.30ZM490.00,404.40L493.90,408.30L490.00,412.20L486.10,408.30ZM494.00,404.40L497.90,408.30L494.00,412.20L490.10,408.30ZM498.00,404.40L501.90,408.30L498.00,412.20L494.10,408.30ZM398.00,387.10L401.90,391.00L398.00,394.90L394.10,391.00ZM393.50,390.10L397.40,394.00L393.50,397.90L389.60,394.00ZM396.50,390.10L400.40,394.00L396.50,397.90L392.60,394.00ZM399.50,390.10L403.40,394.00L399.50,397.90L395.60,394.00ZM389.00,393.10L392.90,397.00L389.00,400.90L385.10,397.00ZM392.00,393.10L395.90,397.00L392.00,400.90L388.10,397.00ZM395.00,393.10L398.90,397.00L395.00,400.90L391.10,397.00ZM398.00,393.10L401.90,397.00L398.00,400.90L394.10,397.00ZM401.00,393.10L404.90,397.00L401.00,400.90L397.10,397.00ZM390.50,396.10L394.40,400.00L390.50,403.90L386.60,400.00ZM393.50,396.10L397.40,400.00L393.50,403.90L389.60,400.00ZM396.50,396.10L400.40,400.00L396.50,403.90L392.60,400.00ZM399.50,396.10L403.40,400.00L399.50,403.90L395.60,400.00ZM389.00,399.10L392.90,403.00L389.00,406.90L385.10,403.00ZM392.00,399.10L395.90,403.00L392.00,406.90L388.10,403.00ZM395.00,399.10L398.90,403.00L395.00,406.90L391.10,403.00ZM398.00,399.10L401.90,403.00L398.00,406.90L394.10,403.00ZM401.00,399.10L404.90,403.00L401.00,406.90L397.10,403.00ZM390.50,402.10L394.40,406.00L390.50,409.90L386.60,406.00ZM393.50,402.10L397.40,406.00L393.50,409.90L389.60,406.00ZM396.50,402.10L400.40,406.00L396.50,409.90L392.60,406.00ZM399.50,402.10L403.40,406.00L399.50,409.90L395.60,406.00ZM433.50,394.10L437.40,398.00L433.50,401.90L429.60,398.00ZM436.50,394.10L440.40,398.00L436.50,401.90L432.60,398.00ZM439.50,394.10L443.40,398.00L439.50,401.90L435.60,398.00ZM442.50,394.10L446.40,398.00L442.50,401.90L438.60,398.00ZM445.50,394.10L449.40,398.00L445.50,401.90L441.60,398.00ZM448.50,394.10L452.40,398.00L448.50,401.90L444.60,398.00ZM432.00,397.10L435.90,401.00L432.00,404.90L428.10,401.00ZM435.00,397.10L438.90,401.00L435.00,404.90L431.10,401.00ZM438.00,397.10L441.90,401.00L438.00,404.90L434.10,401.00ZM441.00,397.10L444.90,401.00L441.00,404.90L437.10,401.00ZM444.00,397.10L447.90,401.00L444.00,404.90L440.10,401.00ZM447.00,397.10L450.90,401.00L447.00,404.90L443.10,401.00ZM450.00,397.10L453.90,401.00L450.00,404.90L446.10,401.00ZM453.00,397.10L456.90,401.00L453.00,404.90L449.10,401.00ZM456.00,397.10L459.90,401.00L456.00,404.90L452.10,401.00ZM433.50,400.10L437.40,404.00L433.50,407.90L429.60,404.00ZM436.50,400.10L440.40,404.00L436.50,407.90L432.60,404.00ZM439.50,400.10L443.40,404.00L439.50,407.90L435.60,404.00ZM442.50,400.10L446.40,404.00L442.50,407.90L438.60,404.00ZM445.50,400.10L449.40,404.00L445.50,407.90L441.60,404.00ZM448.50,400.10L452.40,404.00L448.50,407.90L444.60,404.00ZM451.50,400.10L455.40,404.00L451.50,407.90L447.60,404.00ZM454.50,400.10L458.40,404.00L454.50,407.90L450.60,404.00ZM457.50,400.10L461.40,404.00L457.50,407.90L453.60,404.00ZM460.50,400.10L464.40,404.00L460.50,407.90L456.60,404.00ZM432.00,403.10L435.90,407.00L432.00,410.90L428.10,407.00ZM435.00,403.10L438.90,407.00L435.00,410.90L431.10,407.00ZM438.00,403.10L441.90,407.00L438.00,410.90L434.10,407.00ZM441.00,403.10L444.90,407.00L441.00,410.90L437.10,407.00ZM444.00,403.10L447.90,407.00L444.00,410.90L440.10,407.00ZM447.00,403.10L450.90,407.00L447.00,410.90L443.10,407.00ZM450.00,403.10L453.90,407.00L450.00,410.90L446.10,407.00ZM453.00,403.10L456.90,407.00L453.00,410.90L449.10,407.00ZM456.00,403.10L459.90,407.00L456.00,410.90L452.10,407.00ZM459.00,403.10L462.90,407.00L459.00,410.90L455.10,407.00ZM462.00,403.10L465.90,407.00L462.00,410.90L458.10,407.00ZM465.00,403.10L468.90,407.00L465.00,410.90L461.10,407.00ZM468.00,403.10L471.90,407.00L468.00,410.90L464.10,407.00ZM433.50,406.10L437.40,410.00L433.50,413.90L429.60,410.00ZM436.50,406.10L440.40,410.00L436.50,413.90L432.60,410.00ZM439.50,406.10L443.40,410.00L439.50,413.90L435.60,410.00ZM442.50,406.10L446.40,410.00L442.50,413.90L438.60,410.00ZM445.50,406.10L449.40,410.00L445.50,413.90L441.60,410.00ZM448.50,406.10L452.40,410.00L448.50,413.90L444.60,410.00ZM451.50,406.10L455.40,410.00L451.50,413.90L447.60,410.00ZM454.50,406.10L458.40,410.00L454.50,413.90L450.60,410.00ZM457.50,406.10L461.40,410.00L457.50,413.90L453.60,410.00ZM460.50,406.10L464.40,410.00L460.50,413.90L456.60,410.00ZM463.50,406.10L467.40,410.00L463.50,413.90L459.60,410.00ZM466.50,406.10L470.40,410.00L466.50,413.90L462.60,410.00ZM469.50,406.10L473.40,410.00L469.50,413.90L465.60,410.00ZM399.30,385.60L403.20,389.50L399.30,393.40L395.40,389.50ZM392.00,387.90L395.90,391.80L392.00,395.70L388.10,391.80ZM390.20,392.90L394.10,396.80L390.20,400.70L386.30,396.80ZM412.30,377.90L416.20,381.80L412.30,385.70L408.40,381.80ZM416.80,379.70L420.70,383.60L416.80,387.50L412.90,383.60ZM420.50,378.80L424.40,382.70L420.50,386.60L416.60,382.70ZM435.90,382.50L439.80,386.40L435.90,390.30L432.00,386.40ZM440.50,384.70L444.40,388.60L440.50,392.50L436.60,388.60ZM445.00,381.60L448.90,385.50L445.00,389.40L441.10,385.50ZM450.50,384.30L454.40,388.20L450.50,392.10L446.60,388.20ZM415.50,392.90L419.40,396.80L415.50,400.70L411.60,396.80ZM415.90,397.00L419.80,400.90L415.90,404.80L412.00,400.90ZM454.10,384.40L458.00,388.30L454.10,392.20L450.20,388.30ZM477.20,390.30L481.10,394.20L477.20,398.10L473.30,394.20ZM490.20,389.10L494.10,393.00L490.20,396.90L486.30,393.00ZM477.80,399.10L481.70,403.00L477.80,406.90L473.90,403.00ZM461.80,396.10L465.70,400.00L461.80,403.90L457.90,400.00ZM467.70,399.70L471.60,403.60L467.70,407.50L463.80,403.60Z" fill="#2a7bc2"/>
<path d="M94.40,64.37 L96.30,65.61 L98.20,66.82 L100.09,68.01 L101.99,69.17 L103.89,70.32 L105.79,71.43 L107.69,72.53 L109.59,73.60 L111.48,74.65 L113.38,75.68 L115.28,76.68 L117.18,77.66 L119.08,78.62 L120.98,79.55 L122.87,80.46 L124.77,81.35 L126.67,82.21 L128.57,83.05 L130.47,83.87 L132.37,84.66 L134.26,85.43 L136.16,86.18 L138.06,86.90 L139.96,87.60 L141.86,88.28 L143.76,88.94 L145.65,89.57 L147.55,90.17 L149.45,90.76 L151.35,91.32 L153.25,91.86 L155.15,92.37 L157.04,92.86 L158.94,93.33 L160.84,93.77 L162.74,94.20 L164.64,94.59 L166.54,94.97 L168.43,95.32 L170.33,95.65 L172.23,95.95 L174.13,96.24 L176.03,96.49 L177.93,96.73 L179.82,96.94 L181.72,97.13 L183.62,97.30 L185.52,97.44 L187.42,97.56 L189.32,97.65 L191.21,97.73 L193.11,97.78 L195.01,97.80 L196.91,97.80 L198.81,97.78 L200.71,97.74 L202.60,97.67 L204.50,97.58 L206.40,97.47" fill="none" stroke="#1a1a1a" stroke-width="1.45" stroke-linecap="round"/>
<path d="M332.20,111.25 L335.15,112.71 L338.10,114.21 L341.05,115.75 L344.00,117.32 L346.95,118.92 L349.91,120.54 L352.86,122.16 L355.81,123.80 L358.76,125.44 L361.71,127.08 L364.66,128.72 L367.61,130.34 L370.56,131.96 L373.51,133.57 L376.46,135.16 L379.41,136.73 L382.36,138.29 L385.32,139.83 L388.27,141.35 L391.22,142.84 L394.17,144.32 L397.12,145.77 L400.07,147.20 L403.02,148.61 L405.97,149.99 L408.92,151.34 L411.87,152.67 L414.82,153.97 L417.77,155.24 L420.73,156.47 L423.68,157.68 L426.63,158.85 L429.58,159.98 L432.53,161.07 L435.48,162.12 L438.43,163.11 L441.38,164.06 L444.33,164.95 L447.28,165.77 L450.23,166.53 L453.18,167.20 L456.14,167.80 L459.09,168.30 L462.04,168.70 L464.99,169.00 L467.94,169.17 L470.89,169.20 L473.84,169.10 L476.79,168.83 L479.74,168.39 L482.69,167.76 L485.64,166.93 L488.59,165.88 L491.55,164.58 L494.50,163.02 L497.45,161.18 L500.40,159.03 L503.35,156.56 L506.30,153.73" fill="none" stroke="#ff0000" stroke-width="2.4" stroke-linecap="round"/>
<path d="M100.10,320.59 L102.17,321.17 L104.23,321.74 L106.30,322.30 L108.36,322.84 L110.43,323.37 L112.50,323.89 L114.56,324.39 L116.63,324.88 L118.69,325.35 L120.76,325.81 L122.83,326.26 L124.89,326.69 L126.96,327.11 L129.03,327.51 L131.09,327.90 L133.16,328.28 L135.22,328.64 L137.29,328.99 L139.36,329.33 L141.42,329.65 L143.49,329.95 L145.55,330.25 L147.62,330.53 L149.69,330.79 L151.75,331.04 L153.82,331.28 L155.88,331.50 L157.95,331.71 L160.02,331.91 L162.08,332.09 L164.15,332.26 L166.22,332.41 L168.28,332.55 L170.35,332.68 L172.41,332.79 L174.48,332.89 L176.55,332.97 L178.61,333.05 L180.68,333.10 L182.74,333.14 L184.81,333.17 L186.88,333.19 L188.94,333.19 L191.01,333.18 L193.07,333.15 L195.14,333.11 L197.21,333.05 L199.27,332.99 L201.34,332.90 L203.41,332.81 L205.47,332.70 L207.54,332.57 L209.60,332.43 L211.67,332.28 L213.74,332.12 L215.80,331.94 L217.87,331.74 L219.93,331.53 L222.00,331.31" fill="none" stroke="#1a1a1a" stroke-width="1.45" stroke-linecap="round"/>
<path d="M364.40,356.86 L367.03,360.38 L369.67,363.85 L372.30,367.25 L374.94,370.59 L377.57,373.83 L380.20,376.98 L382.84,380.02 L385.47,382.94 L388.11,385.72 L390.74,388.37 L393.37,390.86 L396.01,393.20 L398.64,395.37 L401.27,397.38 L403.91,399.20 L406.54,400.83 L409.18,402.28 L411.81,403.54 L414.44,404.59 L417.08,405.45 L419.71,406.10 L422.35,406.54 L424.98,406.78 L427.61,406.81 L430.25,406.63 L432.88,406.25 L435.52,405.65 L438.15,404.86 L440.78,403.86 L443.42,402.66 L446.05,401.26 L448.68,399.67 L451.32,397.90 L453.95,395.94 L456.59,393.81 L459.22,391.51 L461.85,389.04 L464.49,386.43 L467.12,383.67 L469.76,380.77 L472.39,377.75 L475.02,374.61 L477.66,371.37 L480.29,368.03 L482.93,364.62 L485.56,361.14 L488.19,357.60 L490.83,354.02 L493.46,350.42 L496.09,346.81 L498.73,343.20 L501.36,339.62 L504.00,336.08 L506.63,332.60 L509.26,329.19 L511.90,325.88 L514.53,322.69 L517.17,319.63 L519.80,316.73" fill="none" stroke="#ff0000" stroke-width="2.4" stroke-linecap="round"/>
<g class="t">
<text x="42.6" y="174.9" font-size="8.5" fill="#1c1c1c" stroke="#1c1c1c" stroke-width="0.22" text-anchor="end" font-family='"Liberation Sans", sans-serif' font-weight="normal"  textLength="4.15" lengthAdjust="spacingAndGlyphs">0</text>
<text x="42.6" y="147.6" font-size="8.5" fill="#1c1c1c" stroke="#1c1c1c" stroke-width="0.22" text-anchor="end" font-family='"Liberation Sans", sans-serif' font-weight="normal"  textLength="12.45" lengthAdjust="spacingAndGlyphs">200</text>
<text x="42.6" y="120.30000000000001" font-size="8.5" fill="#1c1c1c" stroke="#1c1c1c" stroke-width="0.22" text-anchor="end" font-family='"Liberation Sans", sans-serif' font-weight="normal"  textLength="12.45" lengthAdjust="spacingAndGlyphs">400</text>
<text x="42.6" y="93.0" font-size="8.5" fill="#1c1c1c" stroke="#1c1c1c" stroke-width="0.22" text-anchor="end" font-family='"Liberation Sans", sans-serif' font-weight="normal"  textLength="12.45" lengthAdjust="spacingAndGlyphs">600</text>
<text x="42.6" y="65.7" font-size="8.5" fill="#1c1c1c" stroke="#1c1c1c" stroke-width="0.22" text-anchor="end" font-family='"Liberation Sans", sans-serif' font-weight="normal"  textLength="12.45" lengthAdjust="spacingAndGlyphs">800</text>
<text x="42.6" y="38.40000000000001" font-size="8.5" fill="#1c1c1c" stroke="#1c1c1c" stroke-width="0.22" text-anchor="end" font-family='"Liberation Sans", sans-serif' font-weight="normal"  textLength="16.6" lengthAdjust="spacingAndGlyphs">1000</text>
<text x="42.6" y="11.1" font-size="8.5" fill="#1c1c1c" stroke="#1c1c1c" stroke-width="0.22" text-anchor="end" font-family='"Liberation Sans", sans-serif' font-weight="normal"  textLength="16.6" lengthAdjust="spacingAndGlyphs">1200</text>
<text x="52.0" y="187.2" font-size="8.5" fill="#1c1c1c" stroke="#1c1c1c" stroke-width="0.22" text-anchor="middle" font-family='"Liberation Sans", sans-serif' font-weight="normal"  textLength="12.45" lengthAdjust="spacingAndGlyphs">700</text>
<text x="101.75" y="187.2" font-size="8.5" fill="#1c1c1c" stroke="#1c1c1c" stroke-width="0.22" text-anchor="middle" font-family='"Liberation Sans", sans-serif' font-weight="normal"  textLength="12.45" lengthAdjust="spacingAndGlyphs">800</text>
<text x="151.5" y="187.2" font-size="8.5" fill="#1c1c1c" stroke="#1c1c1c" stroke-width="0.22" text-anchor="middle" font-family='"Liberation Sans", sans-serif' font-weight="normal"  textLength="12.45" lengthAdjust="spacingAndGlyphs">900</text>
<text x="201.25" y="187.2" font-size="8.5" fill="#1c1c1c" stroke="#1c1c1c" stroke-width="0.22" text-anchor="middle" font-family='"Liberation Sans", sans-serif' font-weight="normal"  textLength="16.6" lengthAdjust="spacingAndGlyphs">1000</text>
<text x="251.0" y="187.2" font-size="8.5" fill="#1c1c1c" stroke="#1c1c1c" stroke-width="0.22" text-anchor="middle" font-family='"Liberation Sans", sans-serif' font-weight="normal"  textLength="16.6" lengthAdjust="spacingAndGlyphs">1100</text>
<text x="80" y="202.3" font-size="9.6" fill="#1c1c1c" stroke="#1c1c1c" stroke-width="0.22" text-anchor="start" font-family='"Liberation Sans", sans-serif' font-weight="normal"  textLength="84.6" lengthAdjust="spacingAndGlyphs">Annual precipitation</text>
<text x="171.8" y="202.3" font-size="9" fill="#666" stroke="#666" stroke-width="0.22" text-anchor="middle" font-family='"Liberation Sans", sans-serif' font-weight="normal" >(</text>
<text x="175.5" y="202.3" font-size="9.6" fill="#1c1c1c" stroke="#1c1c1c" stroke-width="0.22" text-anchor="start" font-family='"Liberation Sans", sans-serif' font-weight="normal"  textLength="14.7" lengthAdjust="spacingAndGlyphs">mm</text>
<text x="194.2" y="202.3" font-size="9" fill="#666" stroke="#666" stroke-width="0.22" text-anchor="middle" font-family='"Liberation Sans", sans-serif' font-weight="normal" >)</text>
<text transform="translate(10.7,90.6) rotate(-90)" font-size="9.6" fill="#1c1c1c" stroke="#1c1c1c" stroke-width="0.22" text-anchor="middle" font-family='"Liberation Sans", sans-serif' font-weight="normal"  textLength="155.6" lengthAdjust="spacingAndGlyphs">Direct economic lossess of drought</text>
<text transform="translate(23.3,88.4) rotate(-90)" font-size="9.6" fill="#1c1c1c" stroke="#1c1c1c" stroke-width="0.22" text-anchor="middle" font-family='"Liberation Sans", sans-serif' font-weight="normal"  textLength="52" lengthAdjust="spacingAndGlyphs">Billion yuan</text>
<text transform="translate(23.3,118.0) rotate(-90)" font-size="9" fill="#666" stroke="#666" stroke-width="0.22" text-anchor="middle" font-family='"Liberation Sans", sans-serif' font-weight="normal" >(</text>
<text transform="translate(23.3,58.8) rotate(-90)" font-size="9" fill="#666" stroke="#666" stroke-width="0.22" text-anchor="middle" font-family='"Liberation Sans", sans-serif' font-weight="normal" >)</text>
<text x="59.3" y="20.2" font-size="9" fill="#555" stroke="#555" stroke-width="0.22" text-anchor="middle" font-family='"Liberation Sans", sans-serif' font-weight="normal" >(</text>
<text x="64.5" y="21.3" font-size="9.5" fill="#1c1c1c" stroke="#1c1c1c" stroke-width="0.22" text-anchor="middle" font-family='"Liberation Serif", serif' font-weight="bold" >c</text>
<text x="69.5" y="20.2" font-size="9" fill="#555" stroke="#555" stroke-width="0.22" text-anchor="middle" font-family='"Liberation Sans", sans-serif' font-weight="normal" >)</text>
<text x="55" y="105.6" font-size="8" fill="#1c1c1c" stroke="#1c1c1c" stroke-width="0.22" text-anchor="start" font-family='"Liberation Sans", sans-serif' font-weight="normal"  textLength="114" lengthAdjust="spacingAndGlyphs">y = 0.0057x<tspan dy="-3" font-size="5.5">2</tspan><tspan dy="3"> - 11.434x + 6228.8</tspan></text>
<text x="91.8" y="116.8" font-size="8" fill="#1c1c1c" stroke="#1c1c1c" stroke-width="0.22" text-anchor="start" font-family='"Liberation Sans", sans-serif' font-weight="normal"  textLength="40.7" lengthAdjust="spacingAndGlyphs">R<tspan dy="-3" font-size="5.5">2</tspan><tspan dy="3"> = 0.0994</tspan></text>
<text x="317.8" y="173.1" font-size="8.6" fill="#1c1c1c" stroke="#1c1c1c" stroke-width="0.22" text-anchor="end" font-family='"Liberation Sans", sans-serif' font-weight="normal"  textLength="4.7" lengthAdjust="spacingAndGlyphs">0</text>
<text x="317.8" y="146.35" font-size="8.6" fill="#1c1c1c" stroke="#1c1c1c" stroke-width="0.22" text-anchor="end" font-family='"Liberation Sans", sans-serif' font-weight="normal"  textLength="9.4" lengthAdjust="spacingAndGlyphs">50</text>
<text x="317.8" y="119.6" font-size="8.6" fill="#1c1c1c" stroke="#1c1c1c" stroke-width="0.22" text-anchor="end" font-family='"Liberation Sans", sans-serif' font-weight="normal"  textLength="14.1" lengthAdjust="spacingAndGlyphs">100</text>
<text x="317.8" y="92.85" font-size="8.6" fill="#1c1c1c" stroke="#1c1c1c" stroke-width="0.22" text-anchor="end" font-family='"Liberation Sans", sans-serif' font-weight="normal"  textLength="14.1" lengthAdjust="spacingAndGlyphs">150</text>
<text x="317.8" y="66.1" font-size="8.6" fill="#1c1c1c" stroke="#1c1c1c" stroke-width="0.22" text-anchor="end" font-family='"Liberation Sans", sans-serif' font-weight="normal"  textLength="14.1" lengthAdjust="spacingAndGlyphs">200</text>
<text x="317.8" y="39.35" font-size="8.6" fill="#1c1c1c" stroke="#1c1c1c" stroke-width="0.22" text-anchor="end" font-family='"Liberation Sans", sans-serif' font-weight="normal"  textLength="14.1" lengthAdjust="spacingAndGlyphs">250</text>
<text x="317.8" y="12.6" font-size="8.6" fill="#1c1c1c" stroke="#1c1c1c" stroke-width="0.22" text-anchor="end" font-family='"Liberation Sans", sans-serif' font-weight="normal"  textLength="14.1" lengthAdjust="spacingAndGlyphs">300</text>
<text x="327.5" y="186.4" font-size="8.6" fill="#1c1c1c" stroke="#1c1c1c" stroke-width="0.22" text-anchor="middle" font-family='"Liberation Sans", sans-serif' font-weight="normal"  textLength="4.6" lengthAdjust="spacingAndGlyphs">0</text>
<text x="394.59999999999997" y="186.4" font-size="8.6" fill="#1c1c1c" stroke="#1c1c1c" stroke-width="0.22" text-anchor="middle" font-family='"Liberation Sans", sans-serif' font-weight="normal"  textLength="18.4" lengthAdjust="spacingAndGlyphs">1000</text>
<text x="461.69999999999993" y="186.4" font-size="8.6" fill="#1c1c1c" stroke="#1c1c1c" stroke-width="0.22" text-anchor="middle" font-family='"Liberation Sans", sans-serif' font-weight="normal"  textLength="18.4" lengthAdjust="spacingAndGlyphs">2000</text>
<text x="528.8" y="186.4" font-size="8.6" fill="#1c1c1c" stroke="#1c1c1c" stroke-width="0.22" text-anchor="middle" font-family='"Liberation Sans", sans-serif' font-weight="normal"  textLength="18.4" lengthAdjust="spacingAndGlyphs">3000</text>
<text x="370.2" y="202.8" font-size="10.2" fill="#1c1c1c" stroke="#1c1c1c" stroke-width="0.22" text-anchor="start" font-family='"Liberation Sans", sans-serif' font-weight="normal"  textLength="92.8" lengthAdjust="spacingAndGlyphs">Annual precipitation</text>
<text x="471.3" y="202.8" font-size="9" fill="#666" stroke="#666" stroke-width="0.22" text-anchor="middle" font-family='"Liberation Sans", sans-serif' font-weight="normal" >(</text>
<text x="475.5" y="202.8" font-size="10.2" fill="#1c1c1c" stroke="#1c1c1c" stroke-width="0.22" text-anchor="start" font-family='"Liberation Sans", sans-serif' font-weight="normal"  textLength="15.3" lengthAdjust="spacingAndGlyphs">mm</text>
<text x="496" y="202.8" font-size="9" fill="#666" stroke="#666" stroke-width="0.22" text-anchor="middle" font-family='"Liberation Sans", sans-serif' font-weight="normal" >)</text>
<text transform="translate(282,86.4) rotate(-90)" font-size="9.6" fill="#1c1c1c" stroke="#1c1c1c" stroke-width="0.22" text-anchor="middle" font-family='"Liberation Sans", sans-serif' font-weight="normal"  textLength="159.3" lengthAdjust="spacingAndGlyphs">Direct economic losses of drought</text>
<text transform="translate(294,86.5) rotate(-90)" font-size="9.6" fill="#1c1c1c" stroke="#1c1c1c" stroke-width="0.22" text-anchor="middle" font-family='"Liberation Sans", sans-serif' font-weight="normal"  textLength="53" lengthAdjust="spacingAndGlyphs">Billion yuan</text>
<text transform="translate(294,117.3) rotate(-90)" font-size="9" fill="#666" stroke="#666" stroke-width="0.22" text-anchor="middle" font-family='"Liberation Sans", sans-serif' font-weight="normal" >(</text>
<text transform="translate(294,56) rotate(-90)" font-size="9" fill="#666" stroke="#666" stroke-width="0.22" text-anchor="middle" font-family='"Liberation Sans", sans-serif' font-weight="normal" >)</text>
<text x="336.8" y="21.6" font-size="9" fill="#555" stroke="#555" stroke-width="0.22" text-anchor="middle" font-family='"Liberation Sans", sans-serif' font-weight="normal" >(</text>
<text x="342.6" y="22.6" font-size="10" fill="#1c1c1c" stroke="#1c1c1c" stroke-width="0.22" text-anchor="middle" font-family='"Liberation Sans", sans-serif' font-weight="normal" >d</text>
<text x="349.9" y="21.6" font-size="9" fill="#555" stroke="#555" stroke-width="0.22" text-anchor="middle" font-family='"Liberation Sans", sans-serif' font-weight="normal" >)</text>
<text x="57.9" y="413.9" font-size="8.6" fill="#1c1c1c" stroke="#1c1c1c" stroke-width="0.22" text-anchor="end" font-family='"Liberation Sans", sans-serif' font-weight="normal"  textLength="4.07" lengthAdjust="spacingAndGlyphs">0</text>
<text x="57.9" y="390.3428571428571" font-size="8.6" fill="#1c1c1c" stroke="#1c1c1c" stroke-width="0.22" text-anchor="end" font-family='"Liberation Sans", sans-serif' font-weight="normal"  textLength="8.14" lengthAdjust="spacingAndGlyphs">50</text>
<text x="57.9" y="366.7857142857143" font-size="8.6" fill="#1c1c1c" stroke="#1c1c1c" stroke-width="0.22" text-anchor="end" font-family='"Liberation Sans", sans-serif' font-weight="normal"  textLength="12.21" lengthAdjust="spacingAndGlyphs">100</text>
<text x="57.9" y="343.2285714285714" font-size="8.6" fill="#1c1c1c" stroke="#1c1c1c" stroke-width="0.22" text-anchor="end" font-family='"Liberation Sans", sans-serif' font-weight="normal"  textLength="12.21" lengthAdjust="spacingAndGlyphs">150</text>
<text x="57.9" y="319.6714285714286" font-size="8.6" fill="#1c1c1c" stroke="#1c1c1c" stroke-width="0.22" text-anchor="end" font-family='"Liberation Sans", sans-serif' font-weight="normal"  textLength="12.21" lengthAdjust="spacingAndGlyphs">200</text>
<text x="57.9" y="296.1142857142857" font-size="8.6" fill="#1c1c1c" stroke="#1c1c1c" stroke-width="0.22" text-anchor="end" font-family='"Liberation Sans", sans-serif' font-weight="normal"  textLength="12.21" lengthAdjust="spacingAndGlyphs">250</text>
<text x="57.9" y="272.5571428571428" font-size="8.6" fill="#1c1c1c" stroke="#1c1c1c" stroke-width="0.22" text-anchor="end" font-family='"Liberation Sans", sans-serif' font-weight="normal"  textLength="12.21" lengthAdjust="spacingAndGlyphs">300</text>
<text x="57.9" y="249.00000000000003" font-size="8.6" fill="#1c1c1c" stroke="#1c1c1c" stroke-width="0.22" text-anchor="end" font-family='"Liberation Sans", sans-serif' font-weight="normal"  textLength="12.21" lengthAdjust="spacingAndGlyphs">350</text>
<text x="66.1" y="426.3" font-size="8.6" fill="#1c1c1c" stroke="#1c1c1c" stroke-width="0.22" text-anchor="middle" font-family='"Liberation Sans", sans-serif' font-weight="normal"  textLength="14" lengthAdjust="spacingAndGlyphs">13.5</text>
<text x="87.92222222222222" y="426.3" font-size="8.6" fill="#1c1c1c" stroke="#1c1c1c" stroke-width="0.22" text-anchor="middle" font-family='"Liberation Sans", sans-serif' font-weight="normal"  textLength="14" lengthAdjust="spacingAndGlyphs">13.7</text>
<text x="109.74444444444444" y="426.3" font-size="8.6" fill="#1c1c1c" stroke="#1c1c1c" stroke-width="0.22" text-anchor="middle" font-family='"Liberation Sans", sans-serif' font-weight="normal"  textLength="14" lengthAdjust="spacingAndGlyphs">13.9</text>
<text x="131.56666666666666" y="426.3" font-size="8.6" fill="#1c1c1c" stroke="#1c1c1c" stroke-width="0.22" text-anchor="middle" font-family='"Liberation Sans", sans-serif' font-weight="normal"  textLength="14" lengthAdjust="spacingAndGlyphs">14.1</text>
<text x="153.38888888888889" y="426.3" font-size="8.6" fill="#1c1c1c" stroke="#1c1c1c" stroke-width="0.22" text-anchor="middle" font-family='"Liberation Sans", sans-serif' font-weight="normal"  textLength="14" lengthAdjust="spacingAndGlyphs">14.3</text>
<text x="175.2111111111111" y="426.3" font-size="8.6" fill="#1c1c1c" stroke="#1c1c1c" stroke-width="0.22" text-anchor="middle" font-family='"Liberation Sans", sans-serif' font-weight="normal"  textLength="14" lengthAdjust="spacingAndGlyphs">14.5</text>
<text x="197.03333333333333" y="426.3" font-size="8.6" fill="#1c1c1c" stroke="#1c1c1c" stroke-width="0.22" text-anchor="middle" font-family='"Liberation Sans", sans-serif' font-weight="normal"  textLength="14" lengthAdjust="spacingAndGlyphs">14.7</text>
<text x="218.85555555555555" y="426.3" font-size="8.6" fill="#1c1c1c" stroke="#1c1c1c" stroke-width="0.22" text-anchor="middle" font-family='"Liberation Sans", sans-serif' font-weight="normal"  textLength="14" lengthAdjust="spacingAndGlyphs">14.9</text>
<text x="240.67777777777778" y="426.3" font-size="8.6" fill="#1c1c1c" stroke="#1c1c1c" stroke-width="0.22" text-anchor="middle" font-family='"Liberation Sans", sans-serif' font-weight="normal"  textLength="14" lengthAdjust="spacingAndGlyphs">15.1</text>
<text x="262.5" y="426.3" font-size="8.6" fill="#1c1c1c" stroke="#1c1c1c" stroke-width="0.22" text-anchor="middle" font-family='"Liberation Sans", sans-serif' font-weight="normal"  textLength="14" lengthAdjust="spacingAndGlyphs">15.3</text>
<text x="96" y="442.6" font-size="9.4" fill="#1c1c1c" stroke="#1c1c1c" stroke-width="0.22" text-anchor="start" font-family='"Liberation Sans", sans-serif' font-weight="normal"  textLength="104.2" lengthAdjust="spacingAndGlyphs">Annual mean temperature</text>
<text x="207.3" y="442.6" font-size="9" fill="#666" stroke="#666" stroke-width="0.22" text-anchor="middle" font-family='"Liberation Sans", sans-serif' font-weight="normal" >(</text>
<text x="215.2" y="442.6" font-size="9.4" fill="#1c1c1c" stroke="#1c1c1c" stroke-width="0.22" text-anchor="middle" font-family='"Liberation Sans", sans-serif' font-weight="normal"  textLength="7.2" lengthAdjust="spacingAndGlyphs">°C</text>
<text x="222.8" y="442.6" font-size="9" fill="#666" stroke="#666" stroke-width="0.22" text-anchor="middle" font-family='"Liberation Sans", sans-serif' font-weight="normal" >)</text>
<text transform="translate(23.5,327.3) rotate(-90)" font-size="9.6" fill="#1c1c1c" stroke="#1c1c1c" stroke-width="0.22" text-anchor="middle" font-family='"Liberation Sans", sans-serif' font-weight="normal"  textLength="190.7" lengthAdjust="spacingAndGlyphs">Direct economic lossess of  low-temperature</text>
<text transform="translate(35,327.5) rotate(-90)" font-size="9.6" fill="#1c1c1c" stroke="#1c1c1c" stroke-width="0.22" text-anchor="middle" font-family='"Liberation Sans", sans-serif' font-weight="normal"  textLength="53" lengthAdjust="spacingAndGlyphs">Billion yuan</text>
<text transform="translate(35,358.3) rotate(-90)" font-size="9" fill="#666" stroke="#666" stroke-width="0.22" text-anchor="middle" font-family='"Liberation Sans", sans-serif' font-weight="normal" >(</text>
<text transform="translate(35,297) rotate(-90)" font-size="9" fill="#666" stroke="#666" stroke-width="0.22" text-anchor="middle" font-family='"Liberation Sans", sans-serif' font-weight="normal" >)</text>
<text x="73.7" y="257.5" font-size="9" fill="#555" stroke="#555" stroke-width="0.22" text-anchor="middle" font-family='"Liberation Sans", sans-serif' font-weight="normal" >(</text>
<text x="78.8" y="258.9" font-size="9.5" fill="#1c1c1c" stroke="#1c1c1c" stroke-width="0.22" text-anchor="middle" font-family='"Liberation Serif", serif' font-weight="bold" >e</text>
<text x="84.5" y="257.5" font-size="9" fill="#555" stroke="#555" stroke-width="0.22" text-anchor="middle" font-family='"Liberation Sans", sans-serif' font-weight="normal" >)</text>
<text x="167.6" y="352.2" font-size="7.6" fill="#1c1c1c" stroke="#1c1c1c" stroke-width="0.22" text-anchor="start" font-family='"Liberation Sans", sans-serif' font-weight="normal"  textLength="95.4" lengthAdjust="spacingAndGlyphs">y = 41.17x<tspan dy="-3" font-size="5.2">2</tspan><tspan dy="3"> - 1204x + 8966.5</tspan></text>
<text x="196.6" y="362.4" font-size="8" fill="#1c1c1c" stroke="#1c1c1c" stroke-width="0.22" text-anchor="start" font-family='"Liberation Sans", sans-serif' font-weight="normal"  textLength="37.8" lengthAdjust="spacingAndGlyphs">R<tspan dy="-3" font-size="5.5">2</tspan><tspan dy="3"> = 0.0119</tspan></text>
<text x="334.2" y="415.79999999999995" font-size="8.8" fill="#1c1c1c" stroke="#1c1c1c" stroke-width="0.22" text-anchor="end" font-family='"Liberation Sans", sans-serif' font-weight="normal"  textLength="4.67" lengthAdjust="spacingAndGlyphs">0</text>
<text x="334.2" y="388.21666666666664" font-size="8.8" fill="#1c1c1c" stroke="#1c1c1c" stroke-width="0.22" text-anchor="end" font-family='"Liberation Sans", sans-serif' font-weight="normal"  textLength="9.34" lengthAdjust="spacingAndGlyphs">50</text>
<text x="334.2" y="360.6333333333333" font-size="8.8" fill="#1c1c1c" stroke="#1c1c1c" stroke-width="0.22" text-anchor="end" font-family='"Liberation Sans", sans-serif' font-weight="normal"  textLength="14.01" lengthAdjust="spacingAndGlyphs">100</text>
<text x="334.2" y="333.04999999999995" font-size="8.8" fill="#1c1c1c" stroke="#1c1c1c" stroke-width="0.22" text-anchor="end" font-family='"Liberation Sans", sans-serif' font-weight="normal"  textLength="14.01" lengthAdjust="spacingAndGlyphs">150</text>
<text x="334.2" y="305.46666666666664" font-size="8.8" fill="#1c1c1c" stroke="#1c1c1c" stroke-width="0.22" text-anchor="end" font-family='"Liberation Sans", sans-serif' font-weight="normal"  textLength="14.01" lengthAdjust="spacingAndGlyphs">200</text>
<text x="334.2" y="277.8833333333333" font-size="8.8" fill="#1c1c1c" stroke="#1c1c1c" stroke-width="0.22" text-anchor="end" font-family='"Liberation Sans", sans-serif' font-weight="normal"  textLength="14.01" lengthAdjust="spacingAndGlyphs">250</text>
<text x="334.2" y="250.3" font-size="8.8" fill="#1c1c1c" stroke="#1c1c1c" stroke-width="0.22" text-anchor="end" font-family='"Liberation Sans", sans-serif' font-weight="normal"  textLength="14.01" lengthAdjust="spacingAndGlyphs">300</text>
<text x="342.3" y="429.4" font-size="8.8" fill="#1c1c1c" stroke="#1c1c1c" stroke-width="0.22" text-anchor="middle" font-family='"Liberation Sans", sans-serif' font-weight="normal"  textLength="4.67" lengthAdjust="spacingAndGlyphs">0</text>
<text x="408.6333333333333" y="429.4" font-size="8.8" fill="#1c1c1c" stroke="#1c1c1c" stroke-width="0.22" text-anchor="middle" font-family='"Liberation Sans", sans-serif' font-weight="normal"  textLength="9.34" lengthAdjust="spacingAndGlyphs">10</text>
<text x="474.96666666666664" y="429.4" font-size="8.8" fill="#1c1c1c" stroke="#1c1c1c" stroke-width="0.22" text-anchor="middle" font-family='"Liberation Sans", sans-serif' font-weight="normal"  textLength="9.34" lengthAdjust="spacingAndGlyphs">20</text>
<text x="541.3" y="429.4" font-size="8.8" fill="#1c1c1c" stroke="#1c1c1c" stroke-width="0.22" text-anchor="middle" font-family='"Liberation Sans", sans-serif' font-weight="normal"  textLength="9.34" lengthAdjust="spacingAndGlyphs">30</text>
<text x="367.5" y="443.9" font-size="10.2" fill="#1c1c1c" stroke="#1c1c1c" stroke-width="0.22" text-anchor="start" font-family='"Liberation Sans", sans-serif' font-weight="normal"  textLength="115" lengthAdjust="spacingAndGlyphs">Annual mean temperature</text>
<text x="490.5" y="443.9" font-size="9.5" fill="#666" stroke="#666" stroke-width="0.22" text-anchor="middle" font-family='"Liberation Sans", sans-serif' font-weight="normal" >(</text>
<text x="499.5" y="443.9" font-size="10.5" fill="#1c1c1c" stroke="#1c1c1c" stroke-width="0.22" text-anchor="middle" font-family='"Liberation Serif", serif' font-weight="normal"  textLength="10.3" lengthAdjust="spacingAndGlyphs">°C</text>
<text x="508.5" y="443.9" font-size="9.5" fill="#666" stroke="#666" stroke-width="0.22" text-anchor="middle" font-family='"Liberation Sans", sans-serif' font-weight="normal" >)</text>
<text transform="translate(298.5,339.7) rotate(-90)" font-size="9.6" fill="#1c1c1c" stroke="#1c1c1c" stroke-width="0.22" text-anchor="middle" font-family='"Liberation Sans", sans-serif' font-weight="normal"  textLength="205.3" lengthAdjust="spacingAndGlyphs">Direct economic losses  of low-temperature</text>
<text transform="translate(311,338.9) rotate(-90)" font-size="9.6" fill="#1c1c1c" stroke="#1c1c1c" stroke-width="0.22" text-anchor="middle" font-family='"Liberation Sans", sans-serif' font-weight="normal"  textLength="55" lengthAdjust="spacingAndGlyphs">Billion yuan</text>
<text transform="translate(311,371.5) rotate(-90)" font-size="9" fill="#666" stroke="#666" stroke-width="0.22" text-anchor="middle" font-family='"Liberation Sans", sans-serif' font-weight="normal" >(</text>
<text transform="translate(311,306.3) rotate(-90)" font-size="9" fill="#666" stroke="#666" stroke-width="0.22" text-anchor="middle" font-family='"Liberation Sans", sans-serif' font-weight="normal" >)</text>
<text x="349.3" y="257" font-size="9" fill="#555" stroke="#555" stroke-width="0.22" text-anchor="middle" font-family='"Liberation Sans", sans-serif' font-weight="normal" >(</text>
<text x="354.4" y="259.2" font-size="12.5" fill="#1c1c1c" stroke="#1c1c1c" stroke-width="0.22" text-anchor="middle" font-family='"Liberation Serif", serif' font-weight="bold" >f</text>
<text x="359.9" y="257" font-size="9" fill="#555" stroke="#555" stroke-width="0.22" text-anchor="middle" font-family='"Liberation Sans", sans-serif' font-weight="normal" >)</text>
</g>
</svg>
</body></html>
